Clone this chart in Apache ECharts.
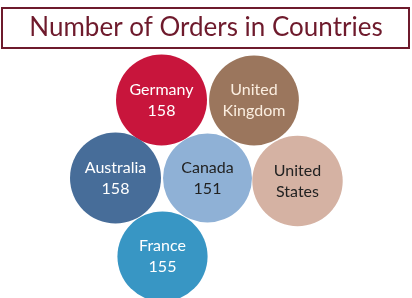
<!DOCTYPE html>
<html>
<head>
<meta charset="utf-8">
<script src="https://cdn.jsdelivr.net/npm/echarts@6/dist/echarts.min.js"></script>
<style>
html,body{margin:0;padding:0;background:#fff;}
#main{width:412px;height:298px;}
</style>
</head>
<body>
<div id="main"></div>
<script>
// Data
var countries = ['Germany', 'United Kingdom', 'Australia', 'Canada', 'United States', 'France'];
var orders = [158, 154, 158, 151, 156, 155];
var showValue = [true, false, true, true, false, true];
// packed-bubble layout positions (layout units)
var layoutX = [161.5, 254, 115.5, 207.5, 297.5, 162.5];
var layoutY = [100, 100.5, 178, 178, 181, 256.5];
var titleText = 'Number of Orders in Countries';

var colors = ['#c8153c', '#9b765d', '#476d99', '#8fb1d6', '#d5b2a3', '#3896c4'];
var labelColors = ['#ffffff', '#fbeee0', '#ffffff', '#222222', '#222222', '#ffffff'];
var labelNames = ['Germany', 'United\nKingdom', 'Australia', 'Canada', 'United\nStates', 'France'];

var chart = echarts.init(document.getElementById('main'), null, {renderer: 'canvas'});
var data = countries.map(function (c, i) {
  return {
    name: c,
    value: [layoutX[i], layoutY[i], orders[i]],
    itemStyle: {color: colors[i], opacity: 1},
    label: {
      color: labelColors[i],
      formatter: showValue[i] ? labelNames[i] + '\n' + orders[i] : labelNames[i]
    }
  };
});
chart.setOption({
  animation: false,
  grid: {left: 0, right: 0, top: 0, bottom: 0},
  xAxis: {type: 'value', min: 0, max: 412, show: false},
  yAxis: {type: 'value', min: 0, max: 298, inverse: true, show: false},
  graphic: [{
    type: 'rect',
    shape: {x: 2, y: 8, width: 407, height: 40},
    style: {fill: '#fff', stroke: '#6e1a2c', lineWidth: 2}
  }, {
    type: 'text',
    x: 206, y: 28,
    style: {
      text: titleText,
      fill: '#6e1a2c',
      font: '26px Lato, sans-serif',
      align: 'center',
      verticalAlign: 'middle'
    }
  }],
  series: [{
    type: 'scatter',
    data: data,
    symbol: 'circle',
    symbolSize: function (v) { return 91 * Math.sqrt(v[2] / 158); },
    itemStyle: {opacity: 1},
    label: {
      show: true,
      position: 'inside',
      fontSize: 16,
      lineHeight: 21,
      fontFamily: 'Lato, sans-serif'
    }
  }]
});
</script>
</body>
</html>
